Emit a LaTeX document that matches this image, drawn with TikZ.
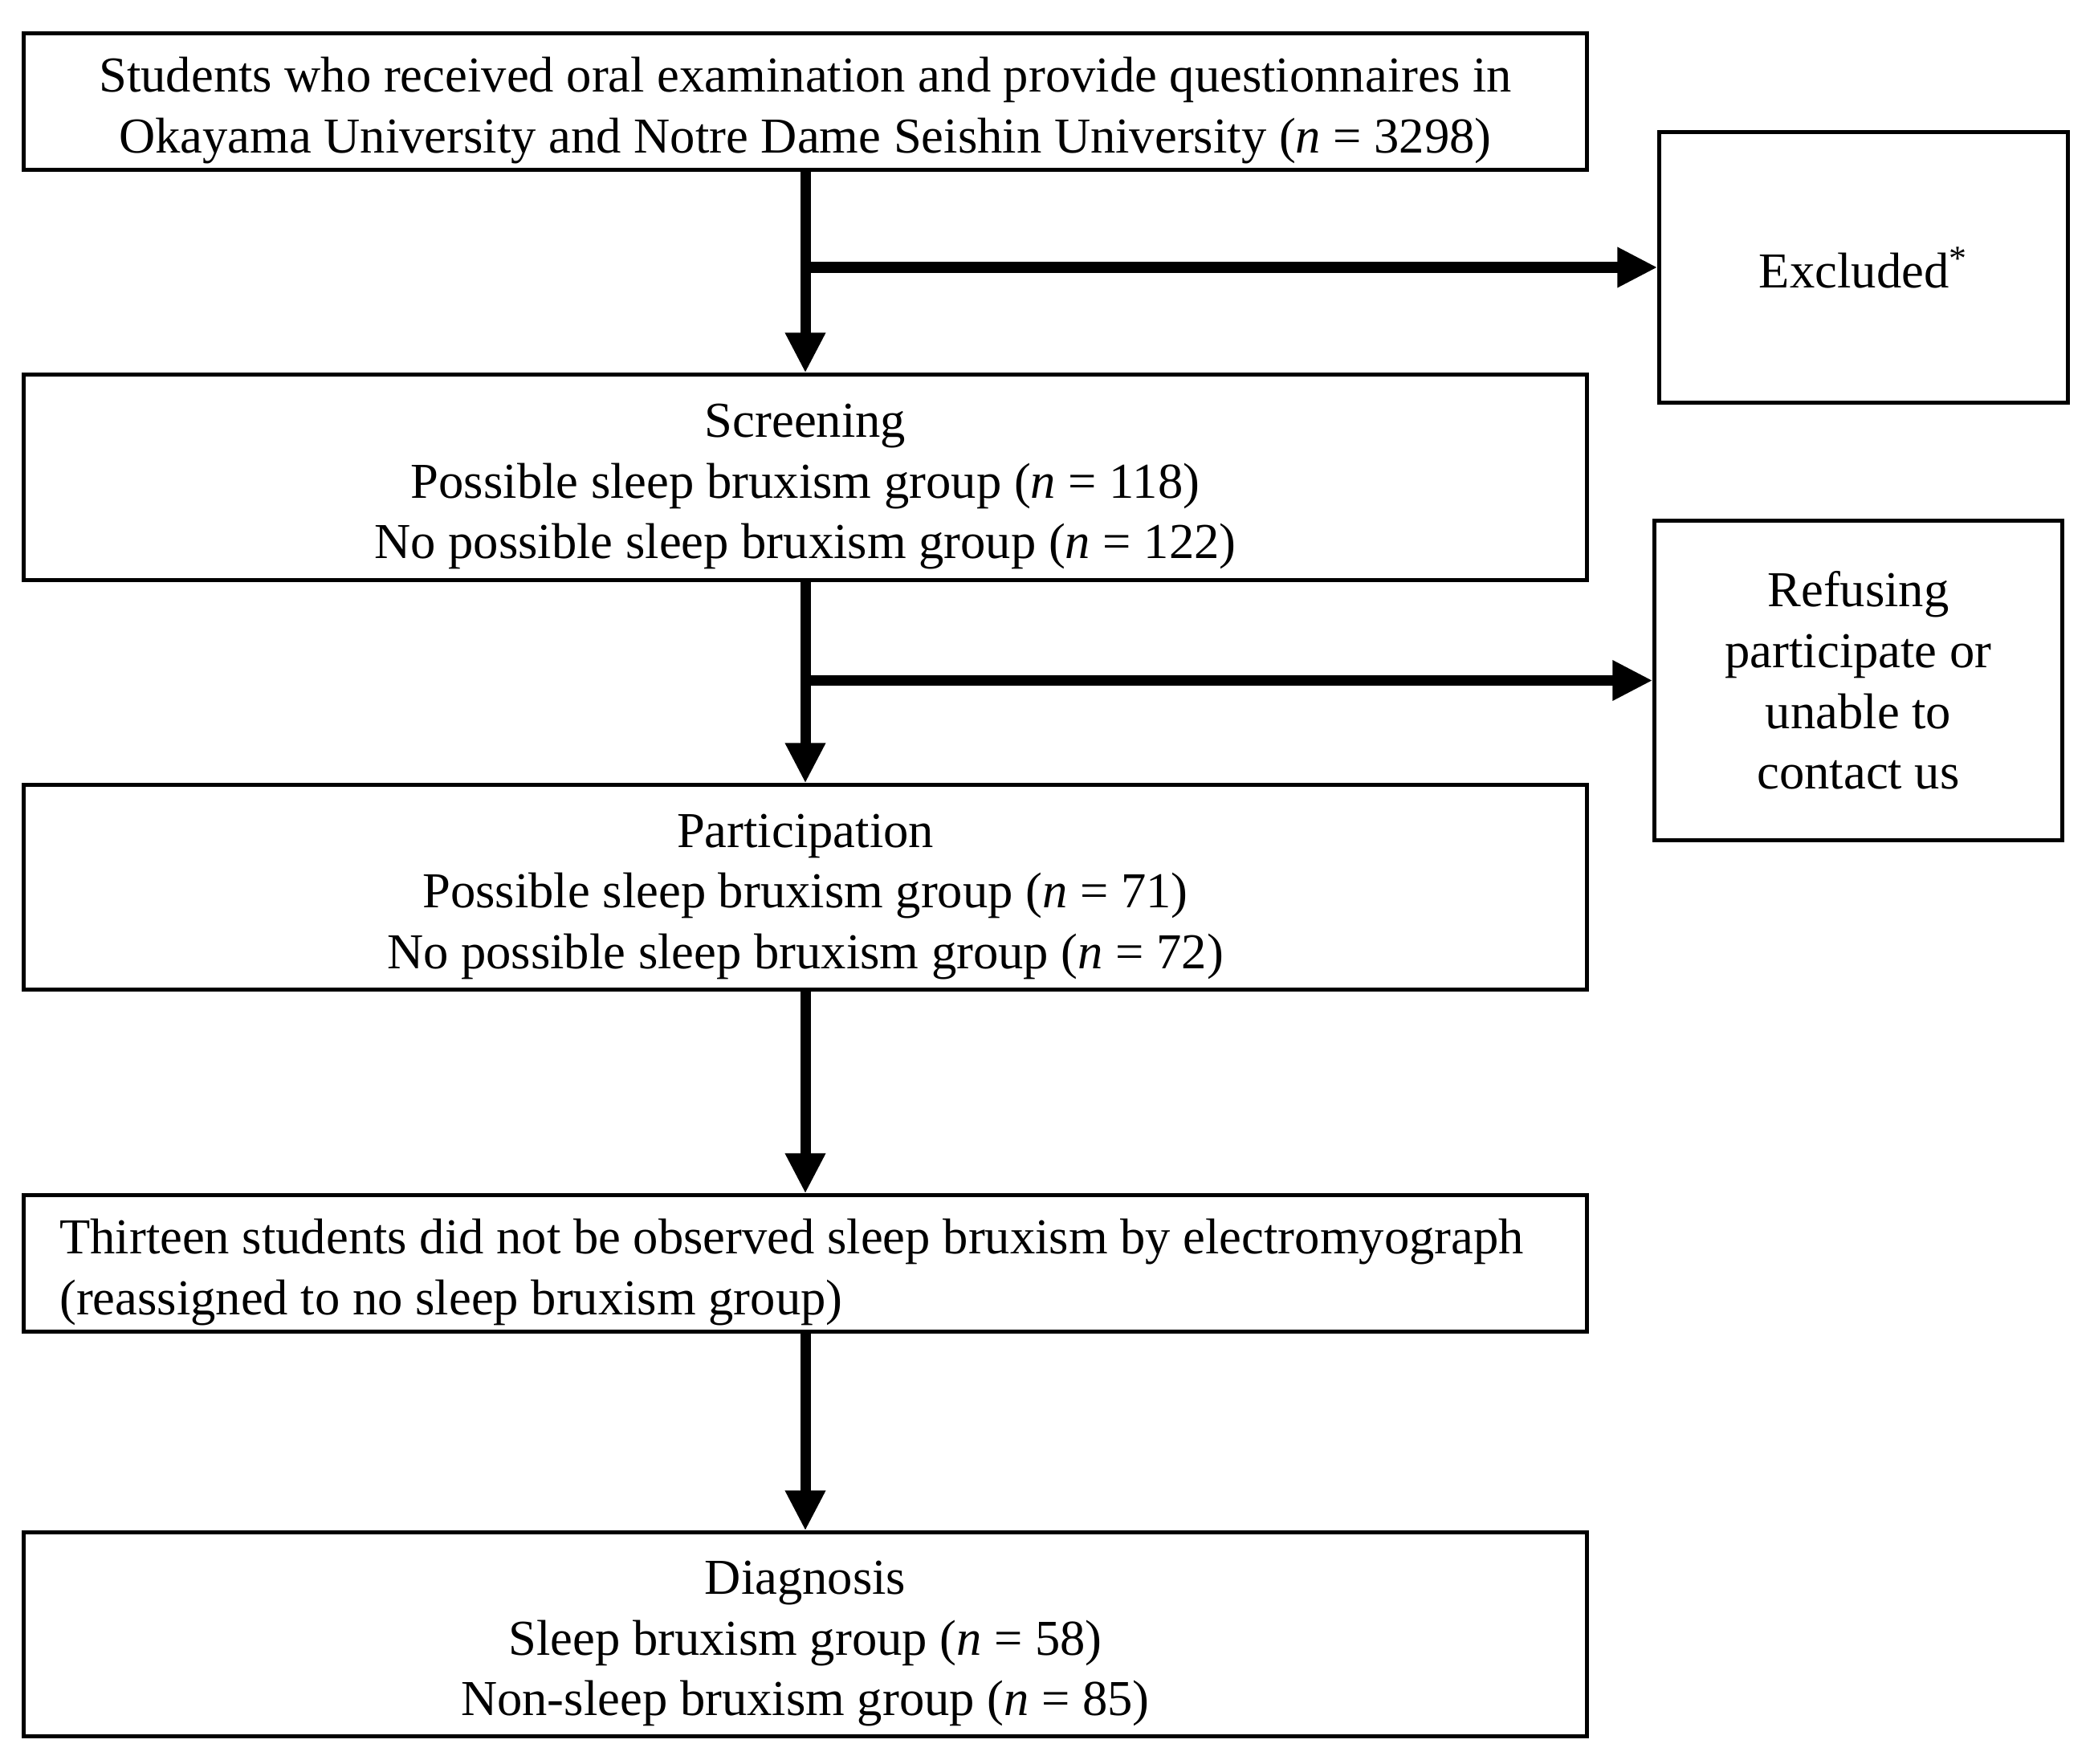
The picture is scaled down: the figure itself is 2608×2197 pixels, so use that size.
\documentclass[tikz,border=0pt]{standalone}
\usepackage{fontspec}
\setmainfont{Liberation Serif}
\usetikzlibrary{arrows.meta}
\newcommand{\tstrut}{\rule{0pt}{0.65cm}}
\begin{document}
\begin{tikzpicture}[x=0.01cm,y=-0.01cm,
  box/.style={draw=black,line width=0.05cm,inner sep=0pt,align=center,
    font=\fontsize{17.8pt}{21.5pt}\selectfont},
  arr/.style={line width=0.13cm,-{Triangle[length=0.5cm,width=0.47cm]}}]
\useasboundingbox (0,0) rectangle (2608,2197);
\node[box,minimum width=19.46cm,minimum height=1.69cm] (b1) at (1003,126.5)
  {\tstrut Students who received oral examination and provide questionnaires in\\
   Okayama University and Notre Dame Seishin University (\textit{n} = 3298)};
\node[box,minimum width=19.46cm,minimum height=2.55cm] (b2) at (1003,594.5)
  {\tstrut Screening\\ Possible sleep bruxism group (\textit{n} = 118)\\
   No possible sleep bruxism group (\textit{n} = 122)};
\node[box,minimum width=19.46cm,minimum height=2.54cm] (b3) at (1003,1105)
  {\tstrut Participation\\ Possible sleep bruxism group (\textit{n} = 71)\\
   No possible sleep bruxism group (\textit{n} = 72)};
\node[box,minimum width=19.46cm,minimum height=1.69cm,align=left] (b4) at (1003,1573.5)
  {\tstrut Thirteen students did not be observed sleep bruxism by electromyograph\hspace*{0.34cm}\\
   (reassigned to no sleep bruxism group)};
\node[box,minimum width=19.46cm,minimum height=2.53cm] (b5) at (1003,2035.5)
  {\tstrut Diagnosis\\ Sleep bruxism group (\textit{n} = 58)\\
   Non-sleep bruxism group (\textit{n} = 85)};
\node[box,minimum width=5.08cm,minimum height=3.36cm] (excl) at (2321,333)
  {Excluded\textsuperscript{*}};
\node[box,minimum width=5.07cm,minimum height=3.97cm] (ref) at (2314.5,847.5)
  {Refusing\\ participate or\\ unable to\\ contact us};
\draw[arr] (b1.south) -- (b2.north);
\draw[arr] (b1.south |- excl.west) -- (excl.west);
\draw[arr] (b2.south) -- (b3.north);
\draw[arr] (b2.south |- ref.west) -- (ref.west);
\draw[arr] (b3.south) -- (b4.north);
\draw[arr] (b4.south) -- (b5.north);
\end{tikzpicture}
\end{document}
